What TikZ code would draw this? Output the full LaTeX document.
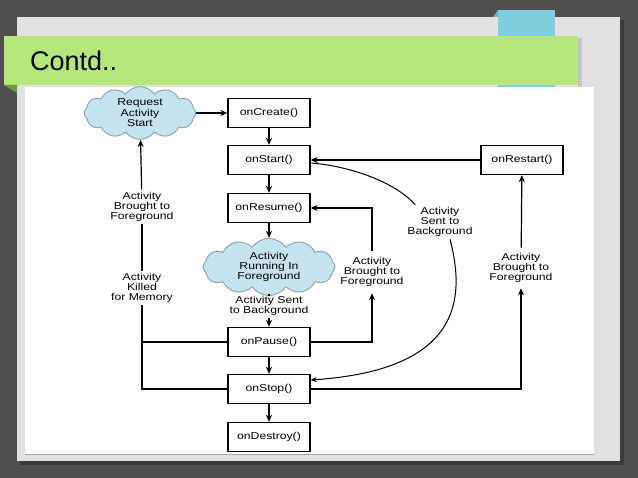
\documentclass[tikz,border=0pt]{standalone}
\usepackage{fontspec}
\setmainfont{Liberation Sans}
\newfontfamily\diagfont[FakeStretch=1.22]{Liberation Sans}
\usetikzlibrary{arrows.meta,shapes.symbols}

\definecolor{slidebg}{HTML}{4F4F4F}
\definecolor{panel}{HTML}{E1E1E1}
\definecolor{bandgreen}{HTML}{B7E67B}
\definecolor{foldgreen}{HTML}{6E9E3C}
\definecolor{tabblue}{HTML}{80CFDF}
\definecolor{tabfold}{HTML}{5AB6CC}
\definecolor{framebar}{HTML}{A7A2C6}
\definecolor{cloudfill}{HTML}{C6E4EF}
\definecolor{cloudline}{HTML}{8EA8B4}

\newcommand{\diagtext}{\diagfont\fontsize{10}{10.4}\selectfont}

\tikzset{
  box/.style={draw, line width=1.2pt, minimum width=82pt, minimum height=29pt,
    inner sep=0pt, font=\diagtext},
  bubble/.style={cloud, cloud puffs=12, cloud puff arc=110, aspect=2.8,
    draw=cloudline, fill=cloudfill, line width=1pt, align=center,
    inner sep=0pt, font=\diagtext},
  note/.style={align=center, inner sep=2pt, font=\diagtext},
  flow/.style={-{Stealth[length=7pt,width=6pt]}, line width=1.2pt},
  wire/.style={line width=1.2pt}
}

\begin{document}
\begin{tikzpicture}[x=1pt,y=-1pt]
   \useasboundingbox (0,0) rectangle (638,478);

   % slide background
   \fill[slidebg] (0,0) rectangle (638,478);
   \fill[black,opacity=.25] (20,20) rectangle (624,465);
   \fill[panel] (17,17) rectangle (620,461);
   \fill[tabblue] (498,10) rectangle (555,88);
   \fill[tabfold] (493,17) -- (498,10) -- (498,17) -- cycle;
   \fill[white] (25,87) rectangle (594,455);
   \draw[framebar, line width=1pt] (25,455) -- (594,455);
   \fill[black,opacity=.12] (578,38) rectangle (582,87);
   \fill[bandgreen] (4,36) rectangle (578,85);
   \fill[foldgreen] (4,85) -- (17,85) -- (17,93) -- cycle;
   \node[anchor=base west, inner sep=0pt, font=\fontsize{27}{27}\selectfont]
        (title) at (30,71) {Contd..};

   % lifecycle states
   \node[bubble, minimum width=110pt, minimum height=38pt] (request) at (140,113)
        {Request\\Activity\\Start};
   \node[box] (create)  at (269,113) {onCreate()};
   \node[box] (start)   at (269,160) {onStart()};
   \node[box] (resume)  at (269,208) {onResume()};
   \node[bubble, minimum width=132pt, minimum height=48pt] (running) at (269,267)
        {Activity\\Running In\\Foreground};
   \node[note] (sent)    at (269,306) {Activity Sent\\to Background};
   \node[box] (pause)   at (269,342) {onPause()};
   \node[box] (stop)    at (269,389) {onStop()};
   \node[box] (destroy) at (269,437) {onDestroy()};
   \node[box] (restart) at (522,160) {onRestart()};

   % transition labels
   \node[note] (front1) at (142,207) {Activity\\Brought to\\Foreground};
   \node[note] (killed) at (142,288) {Activity\\Killed\\for Memory};
   \node[note, inner sep=6pt] (front2) at (372,272) {Activity\\Brought to\\Foreground};
   \node[note, inner sep=5pt] (front3) at (521,268) {Activity\\Brought to\\Foreground};
   \node[note] (back)   at (440,222) {Activity\\Sent to\\Background};

   % main flow
   \draw[flow] (request) -- (create);
   \draw[flow] (create) -- (start);
   \draw[flow] (start) -- (resume);
   \draw[flow] (resume) -- (running);
   \draw[wire] (running) -- (sent);
   \draw[flow] (sent) -- (pause);
   \draw[flow] (pause) -- (stop);
   \draw[flow] (stop) -- (destroy);
   \draw[flow] (restart) -- (start);

   % killed for memory
   \draw[wire] (pause.west) -- (pause.west -| killed);
   \draw[wire] (stop.west) -| (killed);
   \draw[wire] (killed) -- (front1);
   \draw[flow] (front1) -- (request);

   % back to foreground
   \draw[flow] (pause.east) -| (front2);
   \draw[flow] (front2) |- (resume.east);
   \draw[flow] (stop.east) -| (front3);
   \draw[flow] (front3) -- (restart);

   % sent to background
   \draw[line width=1pt] ([yshift=-3pt]start.east)
        .. controls (350,166) and (395,182) .. ([xshift=10pt]back.north west);
   \draw[-{Stealth[length=6pt,width=5pt]}, line width=1pt] ([xshift=10pt]back.south)
        .. controls (466,300) and (460,370) .. ([yshift=9pt]stop.east);
\end{tikzpicture}
\end{document}
